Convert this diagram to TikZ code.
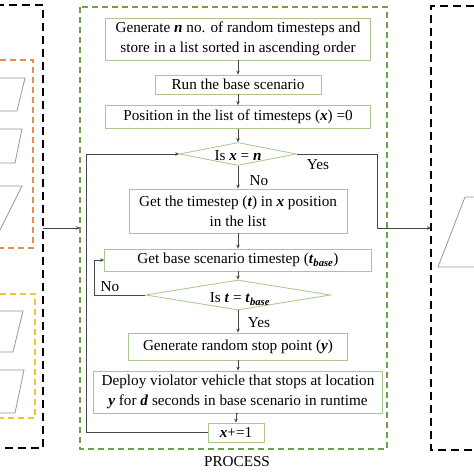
\documentclass[tikz,border=0pt]{standalone}
\usepackage{fontspec}
\setmainfont{Liberation Serif}
\usetikzlibrary{arrows.meta,shapes.geometric}
\definecolor{boxgreen}{RGB}{168,200,140}
\definecolor{dashgreen}{RGB}{112,160,72}
\definecolor{dashorange}{RGB}{232,140,80}
\definecolor{dashyellow}{RGB}{240,196,50}
\definecolor{paraline}{RGB}{140,152,184}
\definecolor{flowline}{RGB}{70,70,70}
\newcommand{\bi}[1]{\textbf{\textit{#1}}}
\begin{document}
\begin{tikzpicture}[x=1pt,y=-1pt,
  font=\fontsize{15.2}{20}\selectfont,
  stepbox/.style={draw=boxgreen,line width=0.8pt,fill=white,inner sep=1pt,align=center,anchor=center},
  decision/.style={diamond,draw=boxgreen,line width=0.8pt,fill=white,inner sep=0pt,aspect=5},
  flow/.style={draw=flowline,line width=0.8pt,-{Stealth[length=4pt,width=3.5pt]}},
  blackdash/.style={draw=black,line width=1.6pt,dash pattern=on 8pt off 5pt},
  greendash/.style={draw=dashgreen,line width=1.3pt,dash pattern=on 6pt off 4pt},
  orangedash/.style={draw=dashorange,line width=1.3pt,dash pattern=on 6pt off 4pt},
  yellowdash/.style={draw=dashyellow,line width=1.3pt,dash pattern=on 6pt off 4pt},
  para/.style={draw=paraline,line width=0.8pt},
  lbl/.style={inner sep=0pt}]
\useasboundingbox (0,0) rectangle (474,474);
\clip (0,0) rectangle (474,474);
\fill[white] (0,0) rectangle (474,474);

% left input box (clipped)
\draw[blackdash] (-30,5) -- (43,5) -- (43,448) -- (-30,448);
\draw[orangedash] (-30,60) -- (33,60) -- (33,248) -- (-30,248);
\draw[yellowdash] (-30,294) -- (35,294) -- (35,418) -- (-30,418);
\draw[para] (-30,78) -- (25,78) -- (17,111) -- (-30,111);
\draw[para] (-30,129) -- (22,129) -- (15,163) -- (-30,163);
\draw[para] (-30,186) -- (22,186) -- (0,230) -- (-30,230);
\draw[para] (-30,311) -- (23,311) -- (13,352) -- (-30,352);
\draw[para] (-30,370) -- (24,370) -- (15,413) -- (-30,413);
\coordinate (inR) at (43,228);

% right output box (clipped)
\draw[blackdash] (500,6) -- (431,6) -- (431,450) -- (500,450);
\draw[para] (500,197) -- (465,197) -- (438,267) -- (500,267);
\coordinate (outL) at (431,228);

% process box
\draw[greendash] (80,7) rectangle (387,449);
\coordinate (procL) at (80,228);
\node[lbl] (proc) at (237,462) {PROCESS};

% flow nodes
\node[stepbox,minimum width=265pt,minimum height=42pt] (b1) at (238,39)
  {Generate \bi{n} no. of random timesteps and\\store in a list sorted in ascending order};
\node[stepbox,minimum width=166pt,minimum height=19pt] (b2) at (238,84.5) {Run the base scenario};
\node[stepbox,minimum width=265pt,minimum height=23pt] (b3) at (238,117)
  {Position in the list of timesteps (\bi{x}) =0};
\node[decision,minimum width=117pt,minimum height=23pt] (d1) at (238,154) {};
\node[lbl] (d1t) at (238,156) {Is \bi{x} = \bi{n}};
\node[stepbox,minimum width=218pt,minimum height=44pt] (b5) at (238,211)
  {Get the timestep (\bi{t}) in \bi{x} position\\in the list};
\node[stepbox,minimum width=267pt,minimum height=22pt] (b6) at (238,260)
  {Get base scenario timestep (\bi{t}\textsubscript{\bi{base}})};
\node[decision,minimum width=185pt,minimum height=30pt] (d2) at (238,295) {};
\node[lbl] (d2t) at (240,299) {Is \bi{t} = \bi{t}\textsubscript{\bi{base}}};
\node[stepbox,minimum width=219pt,minimum height=27pt] (b8) at (238,346.5)
  {Generate random stop point (\bi{y})};
\node[stepbox,minimum width=289pt,minimum height=42pt] (b9) at (238,392)
  {Deploy violator vehicle that stops at location\\\bi{y} for \bi{d} seconds in base scenario in runtime};
\node[stepbox,minimum width=56pt,minimum height=19pt] (b10) at (236,432.5) {\bi{x}+=1};

% labels
\node[lbl] (yes1) at (318,165) {Yes};
\node[lbl] (no1) at (259,181) {No};
\node[lbl] (no2) at (110,287) {No};
\node[lbl] (yes2) at (259,323) {Yes};

% connectors
\draw[flow] (b1.south) -- (b2.north);
\draw[flow] (b2.south) -- (b3.north);
\draw[flow] (b3.south) -- (d1.north);
\draw[flow] (d1.south) -- (b5.north);
\draw[flow] (b5.south) -- (b6.north);
\draw[flow] (b6.south) -- (d2.north);
\draw[flow] (d2.south) -- (b8.north);
\draw[flow] (b8.south) -- (b9.north);
\draw[flow] (b9.south) -- (b10.north |- b9.south) -- (b10.north);
\draw[flow] (b10.west) -- (86,432.5) -- (86,154) -- (d1.west);
\draw[flow] (d2.west) -- (94,295) -- (94,260) -- (b6.west);
\draw[flow] (d1.east) -- (377,154) -- (377,228) -- (outL);
\draw[flow] (inR) -- (procL);
\end{tikzpicture}
\end{document}
